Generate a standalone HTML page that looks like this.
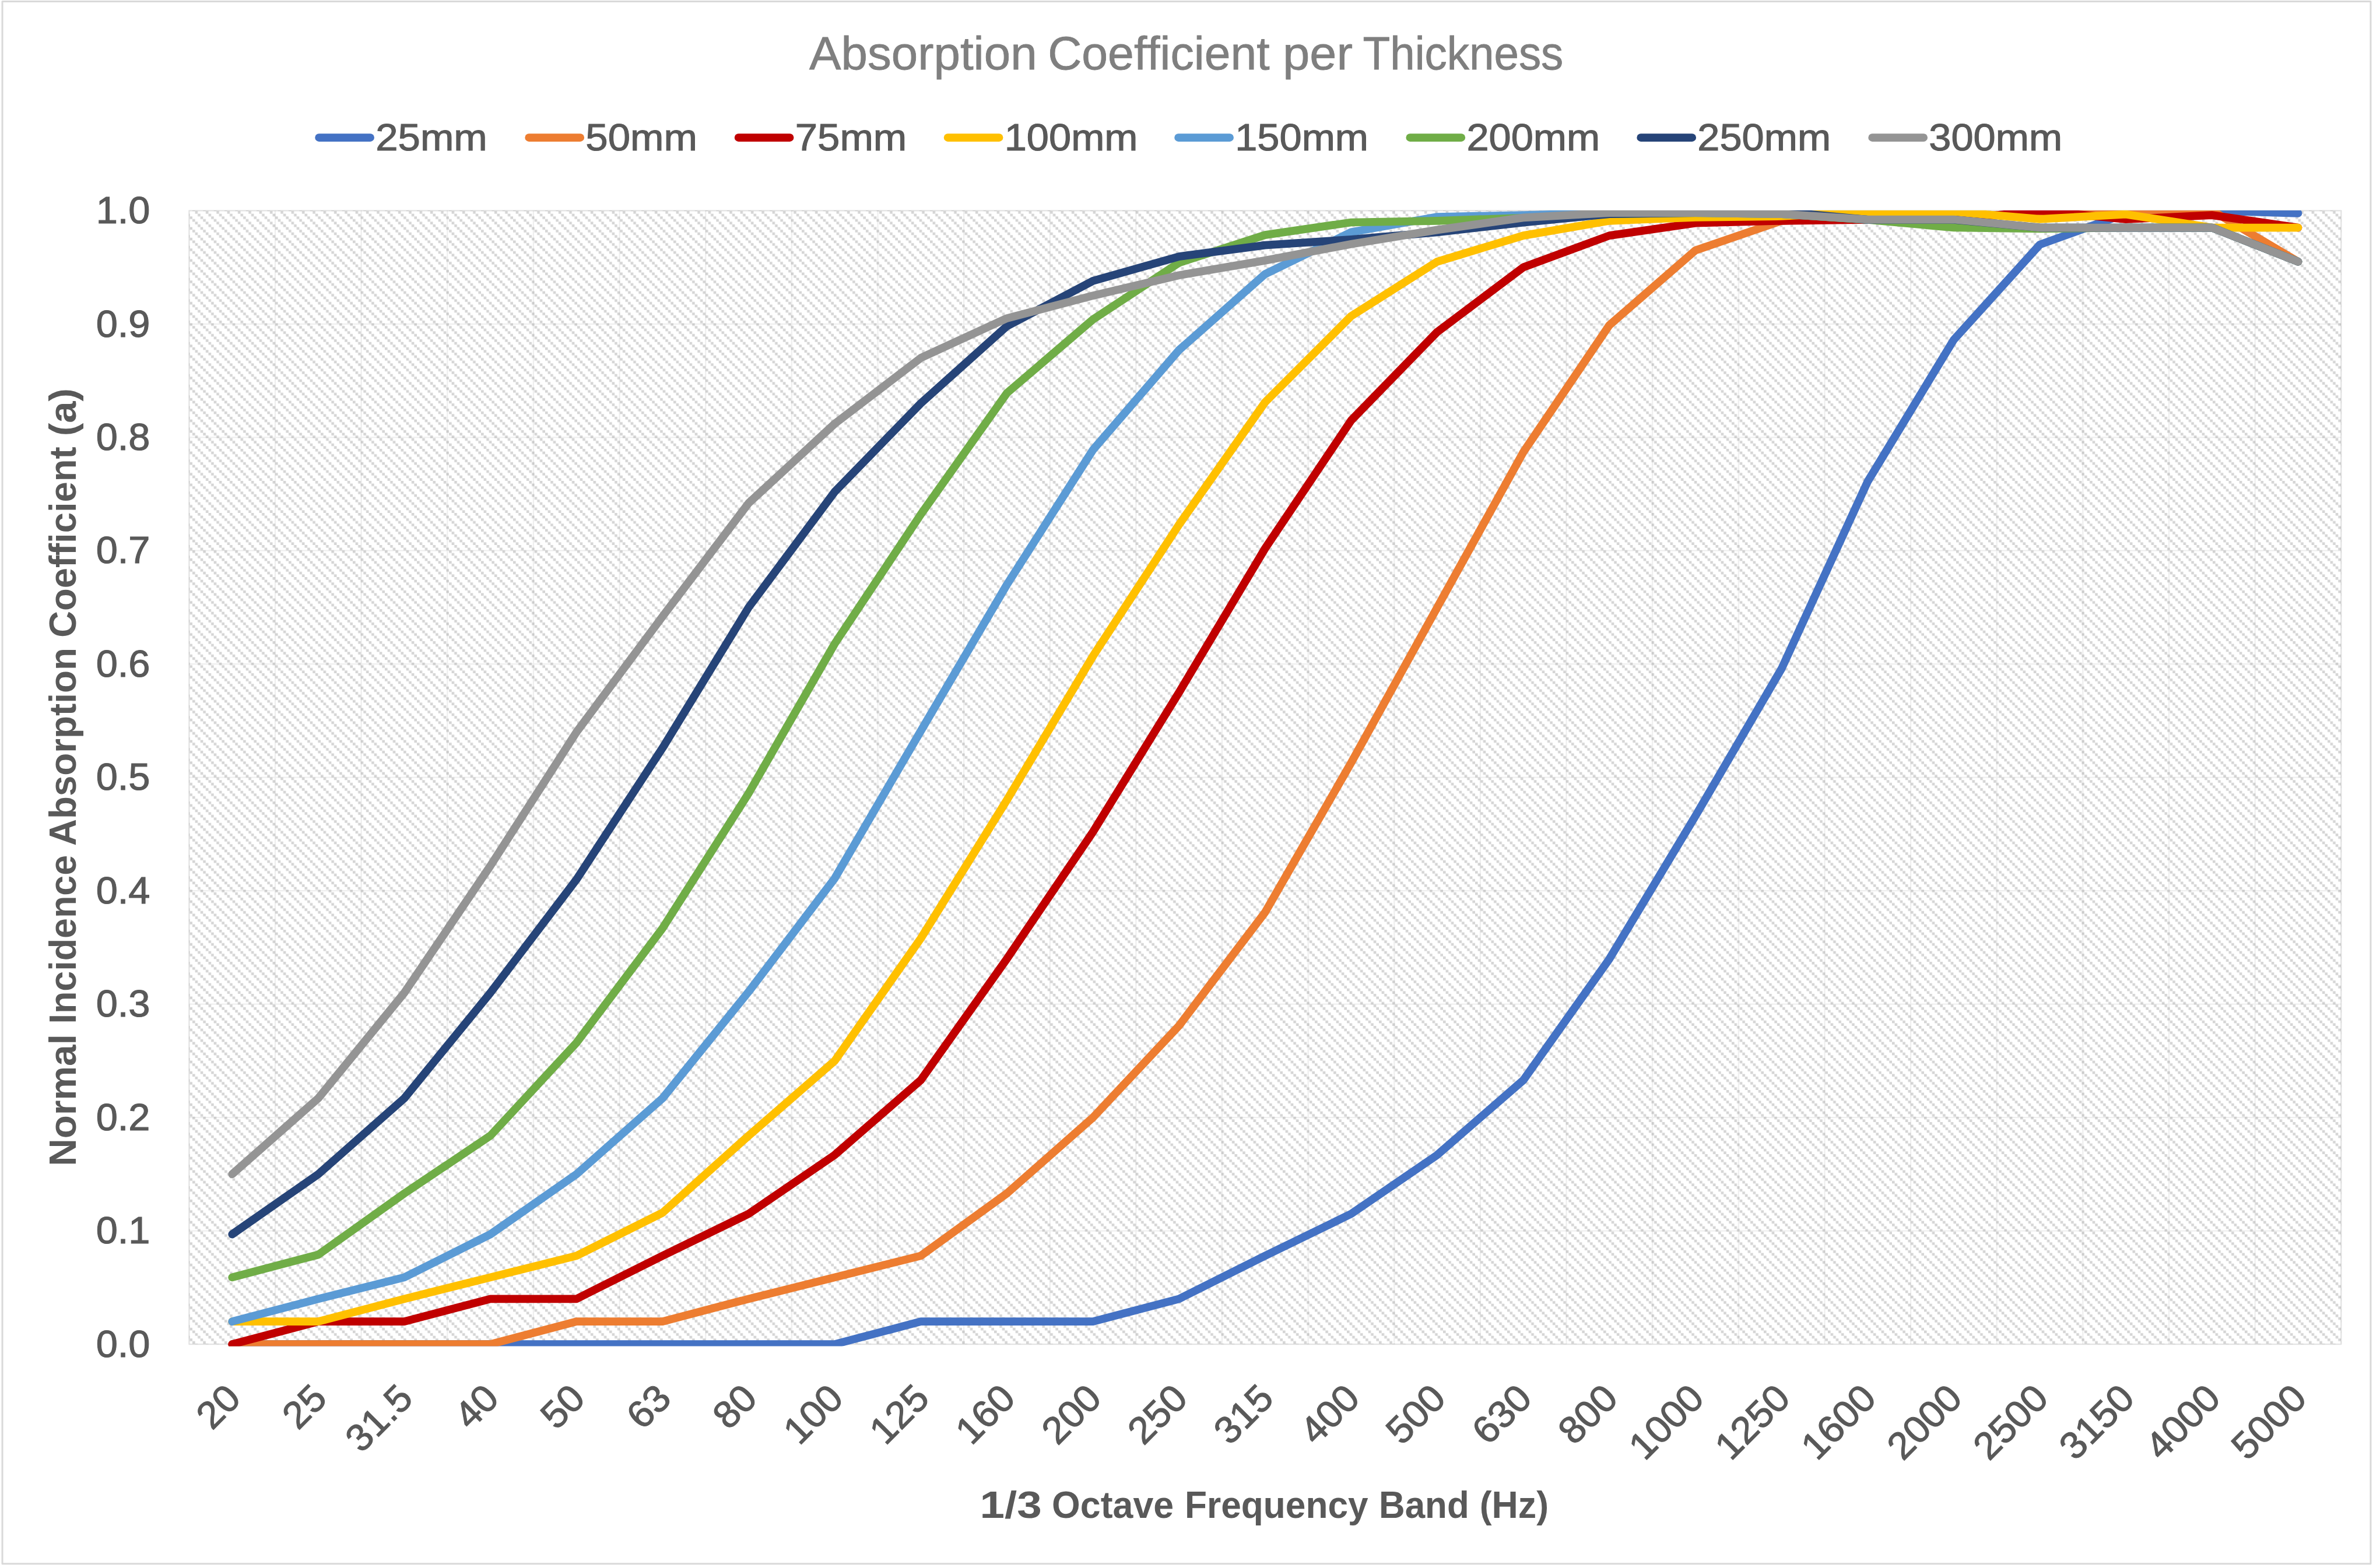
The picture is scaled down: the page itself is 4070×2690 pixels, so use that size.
<!DOCTYPE html>
<html lang="en"><head><meta charset="utf-8"><title>Absorption Coefficient per Thickness</title>
<style>html,body{margin:0;padding:0;background:#fff;}body{width:4070px;height:2690px;overflow:hidden;}svg{display:block;}text{font-family:"Liberation Sans",sans-serif;font-kerning:none;}</style>
</head><body>
<svg width="4070" height="2690" viewBox="0 0 4070 2690">
<defs>
<pattern id="hatch" patternUnits="userSpaceOnUse" x="0" y="0" width="18.3333" height="18.3333">
<rect x="0" y="0" width="18.3333" height="18.3333" fill="#ffffff"/>
<rect x="9.1667" y="0.0000" width="4.5833" height="4.5833" fill="#D5D5D5"/>
<rect x="13.7500" y="4.5833" width="4.5833" height="4.5833" fill="#D5D5D5"/>
<rect x="0.0000" y="9.1667" width="4.5833" height="4.5833" fill="#D5D5D5"/>
<rect x="4.5833" y="13.7500" width="4.5833" height="4.5833" fill="#D5D5D5"/>
</pattern>
<clipPath id="plotclip"><rect x="314.4" y="360.9" width="3710.9" height="1948.6"/></clipPath>
</defs>
<rect x="0" y="0" width="4070" height="2690" fill="#ffffff"/>
<rect x="4" y="2.6" width="4062" height="2680.2" fill="none" stroke="#D9D9D9" stroke-width="3" stroke-linejoin="round"/>
<rect x="324.4" y="361.3" width="3690.9" height="1944.8" fill="url(#hatch)"/>
<path d="M472.0 361.3V2306.1M619.7 361.3V2306.1M767.3 361.3V2306.1M914.9 361.3V2306.1M1062.6 361.3V2306.1M1210.2 361.3V2306.1M1357.9 361.3V2306.1M1505.5 361.3V2306.1M1653.1 361.3V2306.1M1800.8 361.3V2306.1M1948.4 361.3V2306.1M2096.0 361.3V2306.1M2243.7 361.3V2306.1M2391.3 361.3V2306.1M2538.9 361.3V2306.1M2686.6 361.3V2306.1M2834.2 361.3V2306.1M2981.8 361.3V2306.1M3129.5 361.3V2306.1M3277.1 361.3V2306.1M3424.8 361.3V2306.1M3572.4 361.3V2306.1M3720.0 361.3V2306.1M3867.7 361.3V2306.1M324.4 555.8H4015.3M324.4 750.3H4015.3M324.4 944.7H4015.3M324.4 1139.2H4015.3M324.4 1333.7H4015.3M324.4 1528.2H4015.3M324.4 1722.7H4015.3M324.4 1917.1H4015.3M324.4 2111.6H4015.3" stroke="#808080" stroke-opacity="0.13" stroke-width="2.3" fill="none"/>
<rect x="324.4" y="361.3" width="3690.9" height="1944.8" fill="none" stroke="#808080" stroke-opacity="0.22" stroke-width="2.3" stroke-linejoin="round"/>
<g clip-path="url(#plotclip)" fill="none" stroke-width="13.75" stroke-linecap="round" stroke-linejoin="round">
<polyline stroke="#4472C4" points="398.2,2306.1 545.9,2306.1 693.5,2306.1 841.1,2306.1 988.8,2306.1 1136.4,2306.1 1284.0,2306.1 1431.7,2306.1 1579.3,2267.2 1726.9,2267.2 1874.6,2267.2 2022.2,2228.3 2169.8,2154.4 2317.5,2082.4 2465.1,1981.3 2612.8,1853.0 2760.4,1644.9 2908.0,1399.8 3055.7,1147.0 3203.3,826.1 3350.9,583.0 3498.6,419.6 3646.2,366.4 3793.8,361.3 3941.5,365.8"/>
<polyline stroke="#ED7D31" points="398.2,2306.1 545.9,2306.1 693.5,2306.1 841.1,2306.1 988.8,2267.2 1136.4,2267.2 1284.0,2228.3 1431.7,2191.4 1579.3,2154.4 1726.9,2047.4 1874.6,1917.1 2022.2,1759.6 2169.8,1565.1 2317.5,1308.4 2465.1,1042.0 2612.8,775.5 2760.4,557.7 2908.0,429.4 3055.7,378.8 3203.3,371.0 3350.9,371.0 3498.6,367.1 3646.2,365.2 3793.8,361.3 3941.5,448.8"/>
<polyline stroke="#C00000" points="398.2,2306.1 545.9,2267.2 693.5,2267.2 841.1,2228.3 988.8,2228.3 1136.4,2154.4 1284.0,2082.4 1431.7,1981.3 1579.3,1853.0 1726.9,1644.9 1874.6,1427.1 2022.2,1187.8 2169.8,940.9 2317.5,721.1 2465.1,569.4 2612.8,458.5 2760.4,404.1 2908.0,382.7 3055.7,378.8 3203.3,376.9 3350.9,377.2 3498.6,361.3 3646.2,376.1 3793.8,369.1 3941.5,390.5"/>
<polyline stroke="#FFC000" points="398.2,2267.2 545.9,2267.2 693.5,2228.3 841.1,2191.4 988.8,2154.4 1136.4,2080.5 1284.0,1948.3 1431.7,1819.9 1579.3,1609.9 1726.9,1372.6 1874.6,1125.6 2022.2,900.0 2169.8,690.0 2317.5,542.2 2465.1,448.8 2612.8,404.1 2760.4,378.8 2908.0,373.0 3055.7,371.0 3203.3,363.2 3350.9,363.2 3498.6,375.9 3646.2,367.7 3793.8,390.5 3941.5,390.5"/>
<polyline stroke="#5B9BD5" points="398.2,2267.2 545.9,2228.3 693.5,2191.4 841.1,2117.5 988.8,2014.4 1136.4,1884.1 1284.0,1701.3 1431.7,1506.8 1579.3,1254.0 1726.9,1003.1 1874.6,771.7 2022.2,600.5 2169.8,470.2 2317.5,398.3 2465.1,372.0 2612.8,369.1 2760.4,365.2 2908.0,365.2 3055.7,367.1 3203.3,376.9 3350.9,380.7 3498.6,390.5 3646.2,390.5 3793.8,390.5 3941.5,448.8"/>
<polyline stroke="#70AD47" points="398.2,2191.4 545.9,2152.5 693.5,2047.4 841.1,1948.3 988.8,1788.8 1136.4,1592.4 1284.0,1360.9 1431.7,1104.2 1579.3,882.5 1726.9,674.4 1874.6,548.0 2022.2,450.8 2169.8,403.1 2317.5,381.5 2465.1,378.8 2612.8,373.9 2760.4,367.1 2908.0,365.2 3055.7,367.1 3203.3,376.9 3350.9,390.5 3498.6,392.4 3646.2,390.5 3793.8,390.5 3941.5,448.8"/>
<polyline stroke="#264478" points="398.2,2117.5 545.9,2014.4 693.5,1884.1 841.1,1703.2 988.8,1508.7 1136.4,1283.1 1284.0,1042.0 1431.7,843.6 1579.3,691.9 1726.9,559.7 1874.6,481.9 2022.2,440.1 2169.8,420.6 2317.5,410.9 2465.1,398.3 2612.8,381.7 2760.4,367.1 2908.0,365.2 3055.7,363.2 3203.3,376.9 3350.9,376.9 3498.6,390.5 3646.2,390.5 3793.8,390.5 3941.5,448.8"/>
<polyline stroke="#949494" points="398.2,2014.4 545.9,1884.1 693.5,1703.2 841.1,1485.4 988.8,1255.9 1136.4,1057.5 1284.0,863.1 1431.7,726.9 1579.3,614.1 1726.9,546.1 1874.6,507.2 2022.2,472.2 2169.8,446.9 2317.5,418.7 2465.1,394.4 2612.8,373.4 2760.4,365.2 2908.0,365.2 3055.7,367.1 3203.3,376.5 3350.9,376.5 3498.6,390.5 3646.2,390.5 3793.8,390.5 3941.5,448.8"/>
</g>
<text font-size="78.8" fill="#7F7F7F" stroke="#7F7F7F" stroke-width="0.8"><tspan x="1388.1" y="119.4" textLength="390.5" lengthAdjust="spacingAndGlyphs">Absorption</tspan> <tspan x="1797.2" y="119.4" textLength="380.4" lengthAdjust="spacingAndGlyphs">Coefficient</tspan> <tspan x="2200.3" y="119.4" textLength="119.7" lengthAdjust="spacingAndGlyphs">per</tspan> <tspan x="2337.5" y="119.4" textLength="343.8" lengthAdjust="spacingAndGlyphs">Thickness</tspan></text>
<g stroke-width="13.75" stroke-linecap="round">
<line x1="547.1" y1="236" x2="635.1" y2="236" stroke="#4472C4"/>
<line x1="907.2" y1="236" x2="995.2" y2="236" stroke="#ED7D31"/>
<line x1="1266.6" y1="236" x2="1354.6" y2="236" stroke="#C00000"/>
<line x1="1625.6" y1="236" x2="1713.6" y2="236" stroke="#FFC000"/>
<line x1="2021.1" y1="236" x2="2109.1" y2="236" stroke="#5B9BD5"/>
<line x1="2418.3" y1="236" x2="2506.3" y2="236" stroke="#70AD47"/>
<line x1="2814.2" y1="236" x2="2902.2" y2="236" stroke="#264478"/>
<line x1="3211.2" y1="236" x2="3299.2" y2="236" stroke="#949494"/>
</g>
<g font-size="65" fill="#595959" stroke="#595959" stroke-width="1.1">
<text x="644.2" y="257.5" textLength="191.6" lengthAdjust="spacingAndGlyphs">25mm</text>
<text x="1004.3" y="257.5" textLength="191.6" lengthAdjust="spacingAndGlyphs">50mm</text>
<text x="1363.7" y="257.5" textLength="191.6" lengthAdjust="spacingAndGlyphs">75mm</text>
<text x="1722.7" y="257.5" textLength="228.8" lengthAdjust="spacingAndGlyphs">100mm</text>
<text x="2118.2" y="257.5" textLength="228.8" lengthAdjust="spacingAndGlyphs">150mm</text>
<text x="2515.4" y="257.5" textLength="228.8" lengthAdjust="spacingAndGlyphs">200mm</text>
<text x="2911.3" y="257.5" textLength="228.8" lengthAdjust="spacingAndGlyphs">250mm</text>
<text x="3308.3" y="257.5" textLength="228.8" lengthAdjust="spacingAndGlyphs">300mm</text>
</g>
<g font-size="65" fill="#595959" stroke="#595959" stroke-width="1.1" text-anchor="end">
<text x="257.5" y="383.0" textLength="92.8" lengthAdjust="spacingAndGlyphs">1.0</text>
<text x="257.5" y="577.5" textLength="92.8" lengthAdjust="spacingAndGlyphs">0.9</text>
<text x="257.5" y="772.0" textLength="92.8" lengthAdjust="spacingAndGlyphs">0.8</text>
<text x="257.5" y="966.4" textLength="92.8" lengthAdjust="spacingAndGlyphs">0.7</text>
<text x="257.5" y="1160.9" textLength="92.8" lengthAdjust="spacingAndGlyphs">0.6</text>
<text x="257.5" y="1355.4" textLength="92.8" lengthAdjust="spacingAndGlyphs">0.5</text>
<text x="257.5" y="1549.9" textLength="92.8" lengthAdjust="spacingAndGlyphs">0.4</text>
<text x="257.5" y="1744.4" textLength="92.8" lengthAdjust="spacingAndGlyphs">0.3</text>
<text x="257.5" y="1938.8" textLength="92.8" lengthAdjust="spacingAndGlyphs">0.2</text>
<text x="257.5" y="2133.3" textLength="92.8" lengthAdjust="spacingAndGlyphs">0.1</text>
<text x="257.5" y="2327.8" textLength="92.8" lengthAdjust="spacingAndGlyphs">0.0</text>
</g>
<g font-size="65" fill="#595959" stroke="#595959" stroke-width="1.1" text-anchor="end">
<text transform="translate(416.2 2402.5) rotate(-45)" textLength="74.3" lengthAdjust="spacingAndGlyphs">20</text>
<text transform="translate(563.9 2402.5) rotate(-45)" textLength="74.3" lengthAdjust="spacingAndGlyphs">25</text>
<text transform="translate(711.5 2402.5) rotate(-45)" textLength="130.0" lengthAdjust="spacingAndGlyphs">31.5</text>
<text transform="translate(859.1 2402.5) rotate(-45)" textLength="74.3" lengthAdjust="spacingAndGlyphs">40</text>
<text transform="translate(1006.8 2402.5) rotate(-45)" textLength="74.3" lengthAdjust="spacingAndGlyphs">50</text>
<text transform="translate(1154.4 2402.5) rotate(-45)" textLength="74.3" lengthAdjust="spacingAndGlyphs">63</text>
<text transform="translate(1302.0 2402.5) rotate(-45)" textLength="74.3" lengthAdjust="spacingAndGlyphs">80</text>
<text transform="translate(1449.7 2402.5) rotate(-45)" textLength="111.5" lengthAdjust="spacingAndGlyphs">100</text>
<text transform="translate(1597.3 2402.5) rotate(-45)" textLength="111.5" lengthAdjust="spacingAndGlyphs">125</text>
<text transform="translate(1744.9 2402.5) rotate(-45)" textLength="111.5" lengthAdjust="spacingAndGlyphs">160</text>
<text transform="translate(1892.6 2402.5) rotate(-45)" textLength="111.5" lengthAdjust="spacingAndGlyphs">200</text>
<text transform="translate(2040.2 2402.5) rotate(-45)" textLength="111.5" lengthAdjust="spacingAndGlyphs">250</text>
<text transform="translate(2187.8 2402.5) rotate(-45)" textLength="111.5" lengthAdjust="spacingAndGlyphs">315</text>
<text transform="translate(2335.5 2402.5) rotate(-45)" textLength="111.5" lengthAdjust="spacingAndGlyphs">400</text>
<text transform="translate(2483.1 2402.5) rotate(-45)" textLength="111.5" lengthAdjust="spacingAndGlyphs">500</text>
<text transform="translate(2630.8 2402.5) rotate(-45)" textLength="111.5" lengthAdjust="spacingAndGlyphs">630</text>
<text transform="translate(2778.4 2402.5) rotate(-45)" textLength="111.5" lengthAdjust="spacingAndGlyphs">800</text>
<text transform="translate(2926.0 2402.5) rotate(-45)" textLength="148.7" lengthAdjust="spacingAndGlyphs">1000</text>
<text transform="translate(3073.7 2402.5) rotate(-45)" textLength="148.7" lengthAdjust="spacingAndGlyphs">1250</text>
<text transform="translate(3221.3 2402.5) rotate(-45)" textLength="148.7" lengthAdjust="spacingAndGlyphs">1600</text>
<text transform="translate(3368.9 2402.5) rotate(-45)" textLength="148.7" lengthAdjust="spacingAndGlyphs">2000</text>
<text transform="translate(3516.6 2402.5) rotate(-45)" textLength="148.7" lengthAdjust="spacingAndGlyphs">2500</text>
<text transform="translate(3664.2 2402.5) rotate(-45)" textLength="148.7" lengthAdjust="spacingAndGlyphs">3150</text>
<text transform="translate(3811.8 2402.5) rotate(-45)" textLength="148.7" lengthAdjust="spacingAndGlyphs">4000</text>
<text transform="translate(3959.5 2402.5) rotate(-45)" textLength="148.7" lengthAdjust="spacingAndGlyphs">5000</text>
</g>
<text font-size="65" font-weight="bold" fill="#595959"><tspan x="1680.5" y="2603.7" textLength="106.3" lengthAdjust="spacingAndGlyphs">1/3</tspan> <tspan x="1804.1" y="2603.7" textLength="209.0" lengthAdjust="spacingAndGlyphs">Octave</tspan> <tspan x="2032.0" y="2603.7" textLength="314.7" lengthAdjust="spacingAndGlyphs">Frequency</tspan> <tspan x="2365.0" y="2603.7" textLength="154.7" lengthAdjust="spacingAndGlyphs">Band</tspan> <tspan x="2537.7" y="2603.7" textLength="118.4" lengthAdjust="spacingAndGlyphs">(Hz)</tspan></text>
<text transform="translate(130.1 1996.3) rotate(-90)" font-size="65" font-weight="bold" fill="#595959"><tspan x="-4.4" y="0.0" textLength="226.6" lengthAdjust="spacingAndGlyphs">Normal</tspan> <tspan x="239.8" y="0.0" textLength="289.7" lengthAdjust="spacingAndGlyphs">Incidence</tspan> <tspan x="545.2" y="0.0" textLength="340.0" lengthAdjust="spacingAndGlyphs">Absorption</tspan> <tspan x="902.6" y="0.0" textLength="327.2" lengthAdjust="spacingAndGlyphs">Coefficient</tspan> <tspan x="1248.2" y="0.0" textLength="81.9" lengthAdjust="spacingAndGlyphs">(a)</tspan></text>
</svg>
</body></html>
